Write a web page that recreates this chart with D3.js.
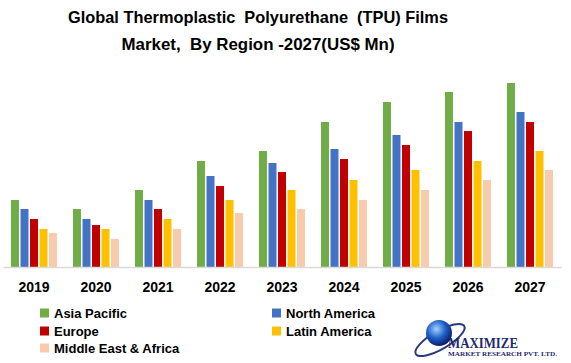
<!DOCTYPE html>
<html><head><meta charset="utf-8">
<script src="https://cdn.jsdelivr.net/npm/d3@7"></script>
<style>body{margin:0;background:#fff}svg{display:block}</style>
</head><body><svg id="c" width="571" height="363"></svg>
<script>
const years = ["2019","2020","2021","2022","2023","2024","2025","2026","2027"];
const seriesNames = ["Asia Pacific","North America","Europe","Latin America","Middle East & Africa"];
const seriesColors = ["#70ad47","#4472c4","#c00000","#ffc000","#f8cbad"];
const asiaPacific = [67,58,77,106,116,145,165,175,184];
const northAmerica = [58,48,67,91,104,118,132,145,155];
const europe = [48,42,58,81,95,108,122,136,145];
const latinAmerica = [38,38,48,67,77,87,97,106,116];
const middleEastAfrica = [34,28,38,54,58,67,77,87,97];
const seriesValues = [asiaPacific,northAmerica,europe,latinAmerica,middleEastAfrica];

const svg = d3.select("#c");
const x0 = d3.scaleBand().domain(years).range([3,561]).paddingInner(0.258).paddingOuter(0.129);
const x1 = d3.scaleBand().domain(seriesNames).range([0,x0.bandwidth()]).paddingInner(0.16);
const y = d3.scaleLinear().domain([0,200]).range([267,67]);

// title
const title = svg.append("g").attr("font-family","Liberation Sans, Arial, sans-serif").attr("font-weight","bold").attr("fill","#000").attr("text-anchor","middle");
title.append("text").attr("x",258).attr("y",23).attr("font-size",16.5).attr("textLength",380).attr("lengthAdjust","spacingAndGlyphs").style("white-space","pre").text("Global Thermoplastic  Polyurethane  (TPU) Films");
title.append("text").attr("x",258).attr("y",50).attr("font-size",16.5).attr("textLength",273).attr("lengthAdjust","spacingAndGlyphs").style("white-space","pre").text("Market,  By Region -2027(US$ Mn)");

// bars
const groups = svg.append("g").selectAll("g").data(years).join("g")
  .attr("transform",d=>`translate(${x0(d)},0)`);
groups.selectAll("rect").data((d,i)=>seriesNames.map((s,j)=>({s,j,v:seriesValues[j][i]}))).join("rect")
  .attr("x",d=>x1(d.s)).attr("width",x1.bandwidth())
  .attr("y",d=>y(d.v)).attr("height",d=>y(0)-y(d.v))
  .attr("fill",d=>seriesColors[d.j]);

// axis
const ax = svg.append("g").attr("transform","translate(0,267)").call(d3.axisBottom(x0).tickSize(0).tickPadding(15));
ax.select(".domain").attr("stroke","#d9d9d9").attr("stroke-width",1.5);
ax.selectAll("text").attr("font-family","Liberation Sans, Arial, sans-serif").attr("font-weight","bold").attr("font-size",14).attr("fill","#000");

// legend
const legPos = [[40,313],[272,313],[40,331],[272,331],[40,348]];
const leg = svg.append("g").selectAll("g").data(seriesNames).join("g")
  .attr("transform",(d,i)=>`translate(${legPos[i][0]},${legPos[i][1]})`);
leg.append("rect").attr("x",0).attr("y",-4.5).attr("width",9).attr("height",9).attr("fill",(d,i)=>seriesColors[i]);
leg.append("text").attr("x",14).attr("y",4.5).attr("font-family","Liberation Sans, Arial, sans-serif").attr("font-weight","bold").attr("font-size",13).attr("fill","#000").text(d=>d);

// logo
const defs = svg.append("defs");
const gr = defs.append("radialGradient").attr("id","globe").attr("cx","40%").attr("cy","35%").attr("r","65%");
gr.append("stop").attr("offset","0%").attr("stop-color","#9fd3ff");
gr.append("stop").attr("offset","55%").attr("stop-color","#1f5fc8");
gr.append("stop").attr("offset","100%").attr("stop-color","#0a1f6a");
const logo = svg.append("g");
logo.append("ellipse").attr("cx",440).attr("cy",340).attr("rx",28).attr("ry",9).attr("transform","rotate(-30 440 340)").attr("fill","none").attr("stroke","#2a3a7a").attr("stroke-width",2);
logo.append("circle").attr("cx",439).attr("cy",333).attr("r",13).attr("fill","url(#globe)");
logo.append("text").attr("x",448).attr("y",348).attr("font-family","Liberation Serif, Times New Roman, serif").attr("font-weight","bold").attr("font-size",14).attr("fill","#1f2a6e").attr("textLength",70).attr("lengthAdjust","spacingAndGlyphs").text("MAXIMIZE");
logo.append("text").attr("x",448).attr("y",356).attr("font-family","Liberation Serif, Times New Roman, serif").attr("font-weight","bold").attr("font-size",7).attr("fill","#1f2a6e").attr("textLength",109).attr("lengthAdjust","spacingAndGlyphs").text("MARKET RESEARCH PVT. LTD.");
</script></body></html>
